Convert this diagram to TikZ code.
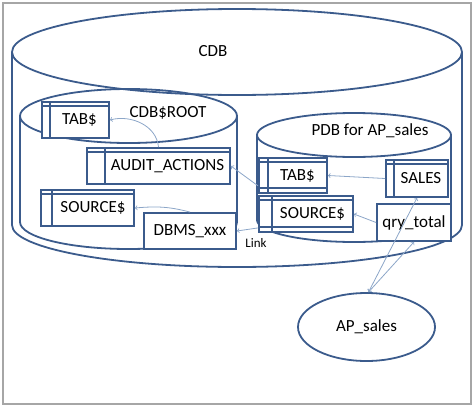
\documentclass[tikz,border=0pt]{standalone}
\usepackage{fontspec}
\setmainfont{Carlito}
\usetikzlibrary{shapes.geometric}
\definecolor{boxblue}{HTML}{3B5B8C}
\definecolor{linkblue}{HTML}{8CA6C8}
\begin{document}
\begin{tikzpicture}[x=1pt, y=-1pt,
		font=\fontsize{17}{20}\selectfont,
		cyl/.style={draw=boxblue, line width=1.8pt},
		box/.style={draw=boxblue, line width=1.8pt, fill=white, inner sep=0pt},
		tbl/.style={box, execute at begin node={\hspace*{#1}},
			path picture={
				\draw[boxblue, line width=1.2pt] ([yshift=-4pt]path picture bounding box.north west) -- ([yshift=-4pt]path picture bounding box.north east);
				\draw[boxblue, line width=1.2pt] ([xshift=#1]path picture bounding box.north west) -- ([xshift=#1]path picture bounding box.south west);
			}},
		row/.style={draw=boxblue, line width=2.5pt},
		link/.style={draw=linkblue, line width=0.8pt, ->},
		twoway/.style={draw=linkblue, line width=0.8pt, <->}]
		\useasboundingbox (0,0) rectangle (474,407);
		\draw[gray!70, line width=1.2pt] (3,3) rectangle (471,404);
		
		% Cylinders
		\draw[cyl] (12,52) -- (12,225) arc[start angle=180, end angle=0, x radius=225, y radius=42] -- (462,52);
		\draw[cyl] (237,52) ellipse[x radius=225, y radius=43];
		\draw[cyl] (20,116) -- (20,222) arc[start angle=180, end angle=0, x radius=108.5, y radius=27] -- (237,116);
		\draw[cyl] (128.5,116) ellipse[x radius=108.5, y radius=27];
		\draw[cyl] (257,135) -- (257,220) arc[start angle=180, end angle=0, x radius=97, y radius=22] -- (451,135);
		\draw[cyl] (354,135) ellipse[x radius=97, y radius=22];
		
		% Nodes
		\node (cdb) at (213,51) {CDB};
		\node (root) at (168,113) {CDB\$ROOT};
		\node (pdb) at (370,131) {PDB for AP\_sales};
		\node[tbl=8pt, minimum width=67pt, minimum height=36pt] (tabr) at (75.5,120) {TAB\$};
		\node[tbl=18pt, minimum width=143pt, minimum height=36pt] (audit) at (158.5,166) {AUDIT\_ACTIONS};
		\node[tbl=11pt, minimum width=93pt, minimum height=36pt] (srcr) at (87.5,208) {SOURCE\$};
		\node[box, minimum width=92pt, minimum height=36pt] (dbms) at (190,231) {DBMS\_xxx};
		\node[tbl=9pt, minimum width=68pt, minimum height=35pt] (tabp) at (293,175.5) {TAB\$};
		\node[tbl=13pt, minimum width=94pt, minimum height=36pt] (srcp) at (306,214) {SOURCE\$};
		\node[tbl=8pt, minimum width=62pt, minimum height=37pt] (sales) at (417,178.5) {SALES};
		\node[box, minimum width=74pt, minimum height=37pt] (qry) at (414,222.5) {qry\_total};
		\node[draw=boxblue, line width=1.8pt, ellipse, minimum width=137pt, minimum height=68pt, inner sep=0pt] (ap) at (366.5,327) {AP\_sales};
		\node[font=\fontsize{13}{15}\selectfont] (lnk) at (256,243) {Link};
		\draw[row] ([yshift=6pt]tabp.south west) -- ([yshift=6pt]tabp.south east);
		\draw[row] ([yshift=6pt]srcp.south west) -- ([yshift=6pt]srcp.south east);
		
		% Edges
		\draw[link] (audit.north) to[out=95, in=15] (tabr.east);
		\draw[link] (dbms.north) to[out=165, in=5] (srcr.east);
		\draw[link] ([yshift=8pt]tabp.south west) -- (audit.east);
		\draw[link] ([yshift=5pt]srcp.south west) -- (dbms.east);
		\draw[link] (sales.west) -- (tabp.east);
		\draw[link] (qry.west) -- (srcp.east);
		\draw[twoway] ([xshift=2pt]ap.north) -- (sales.south);
		\draw[twoway] ([xshift=2pt]ap.north) -- (qry.south);
	\end{tikzpicture}
\end{document}
